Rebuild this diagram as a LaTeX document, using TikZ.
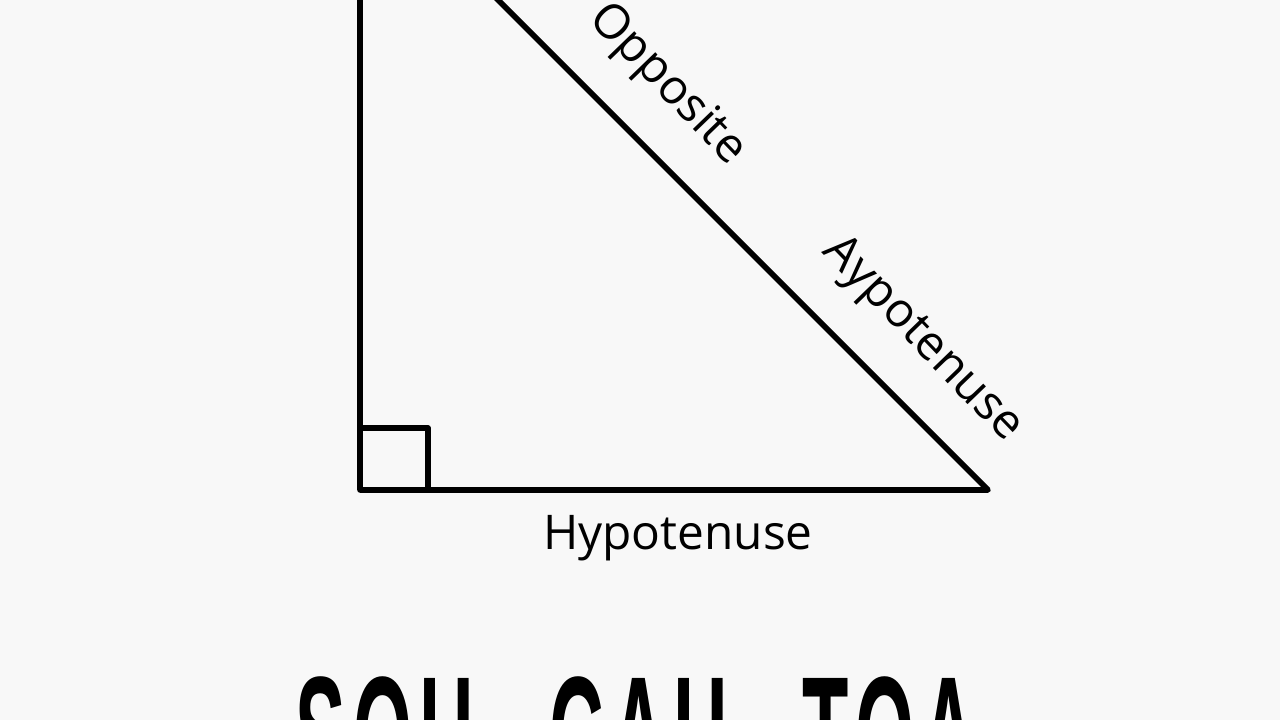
\documentclass[tikz,border=0pt]{standalone}
\usepackage{fontspec}
\setmainfont{Open Sans}
\newfontfamily\mnemonicfont[LetterSpace=10, WordSpace=2.6]{Liberation Sans}
\usepackage{tikz}
\usetikzlibrary{positioning}
\definecolor{paperbg}{rgb}{0.973,0.973,0.973}

\begin{document}
\begin{tikzpicture}[
    side/.style={line width=1.6pt, line join=round, line cap=round},
    sidetext/.style={font=\fontsize{13.6}{16}\selectfont, inner sep=0pt}
]
\useasboundingbox (0,0) rectangle (12.8,7.2);
\fill[paperbg] (0,0) rectangle (12.8,7.2);
\clip (0,0) rectangle (12.8,7.2);

\coordinate (corner) at (3.6,2.3);
\coordinate (base) at (9.88,2.3);
\coordinate (apex) at (3.6,8.58);

\draw[side] (apex) -- (corner) -- (base) -- cycle;
\draw[side] (3.6,2.92) -- (4.28,2.92) -- (4.28,2.3);

\node[sidetext, rotate=-46] (opposite) at (6.67,6.35) {Opposite};
\node[sidetext, rotate=-46] (aypotenuse) at (9.22,3.8) {Aypotenuse};
\node[sidetext] (hypotenuse) at (6.78,1.82) {Hypotenuse};

\node[font=\mnemonicfont\bfseries\fontsize{28}{28}\selectfont, inner sep=0pt,
      anchor=north, xscale=0.77, yscale=1.7] (mnemonic) at (6.36,0.45) {SOH CAH TOA};

\end{tikzpicture}
\end{document}
